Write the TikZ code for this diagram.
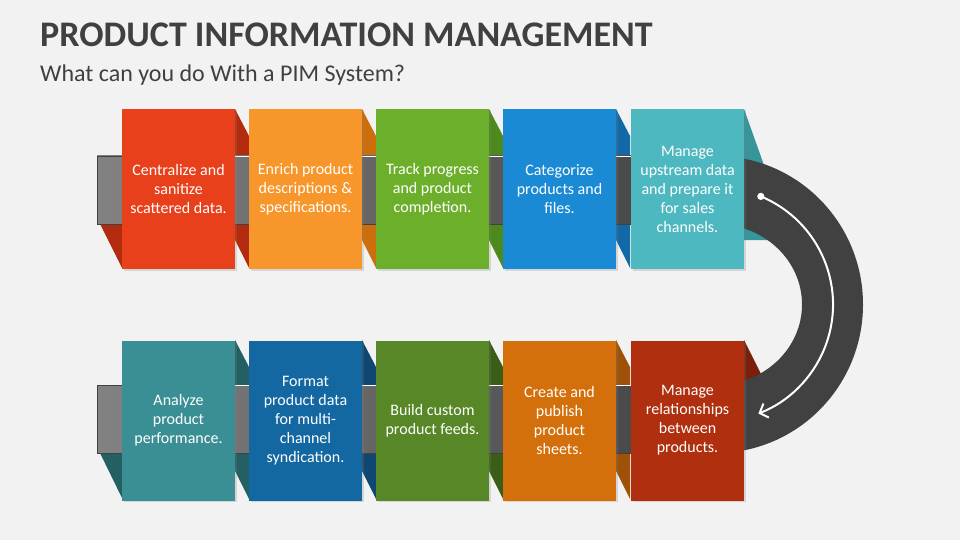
\documentclass[tikz,border=0pt]{standalone}
\usepackage{fontspec}
\setmainfont{Carlito}
\usetikzlibrary{arrows.meta,shadows}
\definecolor{bg}{HTML}{F2F2F2}
\definecolor{ttl}{HTML}{404040}
\definecolor{bandL}{HTML}{828282}
\definecolor{bandM}{HTML}{5E5E5E}
\definecolor{bandR}{HTML}{414141}
\definecolor{ringc}{HTML}{414141}
\definecolor{tA}{HTML}{E8401A}\definecolor{tAd}{HTML}{B22B0F}
\definecolor{tB}{HTML}{F7962A}\definecolor{tBd}{HTML}{CC6E0C}
\definecolor{tC}{HTML}{6BAF2B}\definecolor{tCd}{HTML}{4D8A1D}
\definecolor{tD}{HTML}{1B8AD5}\definecolor{tDd}{HTML}{1269A8}
\definecolor{tE}{HTML}{4DB8C0}\definecolor{tEd}{HTML}{35959B}
\definecolor{bA}{HTML}{3A8F95}\definecolor{bAd}{HTML}{235F63}
\definecolor{bB}{HTML}{1468A2}\definecolor{bBd}{HTML}{0E4872}
\definecolor{bC}{HTML}{578727}\definecolor{bCd}{HTML}{3A5E18}
\definecolor{bD}{HTML}{D4700B}\definecolor{bDd}{HTML}{9F5207}
\definecolor{bE}{HTML}{B02F0E}\definecolor{bEd}{HTML}{7A1F09}
\tikzset{
  pbox/.style={rectangle, minimum width=113pt, minimum height=160pt, inner sep=0pt,
    text=white, align=center, font=\fontsize{16}{19}\selectfont,
    drop shadow={shadow xshift=1.5pt, shadow yshift=-1.5pt, opacity=.25}},
  bandstyle/.style={left color=bandL, middle color=bandM, right color=bandR, draw=ringc, line width=0.8pt},
}
% fold strip to the right of a box: x-right, y-top, y-bottom, colour
\newcommand\pimfold[4]{\fill[#4] (#1,#2) -- (#1+14,#2+27) -- (#1+14,#3) -- (#1,#3-28) -- cycle;}
\begin{document}
\begin{tikzpicture}[x=1pt,y=-1pt]
\useasboundingbox (0,0) rectangle (960,540);
\fill[bg] (0,0) rectangle (960,540);
% titles
\node[anchor=base west, inner sep=0pt, text=ttl, font=\fontsize{36}{40}\selectfont\bfseries] (title) at (40,47) {PRODUCT INFORMATION MANAGEMENT};
\node[anchor=base west, inner sep=0pt, text=ttl, font=\fontsize{24}{28}\selectfont] (sub) at (40,82) {What can you do With a PIM System?};
% folds, top row
\fill[tAd] (100,224) -- (122,224) -- (122,268) -- cycle;
\pimfold{235}{109}{268}{tAd}
\pimfold{362}{109}{268}{tBd}
\pimfold{489}{109}{268}{tCd}
\pimfold{616}{109}{268}{tDd}
\fill[tEd] (744,109) -- (770,182) -- (770,240) -- (744,240) -- cycle;
% folds, bottom row
\fill[bAd] (100,453) -- (122,453) -- (122,498) -- cycle;
\pimfold{235}{340}{499}{bAd}
\pimfold{362}{340}{499}{bBd}
\pimfold{489}{340}{499}{bCd}
\pimfold{616}{340}{499}{bDd}
\fill[bEd] (744,340) -- (766,384) -- (766,440) -- (744,440) -- cycle;
% band and ring
\fill[ringc] (716,156) arc[start angle=-90, end angle=90, x radius=147, y radius=148.5]
  -- (716,385) arc[start angle=90, end angle=-90, x radius=86, y radius=80.5] -- cycle;
\path[bandstyle] (97,156) rectangle (717,224);
\path[bandstyle] (97,385) rectangle (717,453);
\draw[white, line width=0.8pt] (235,156.4) -- (631,156.4);
\draw[white, line width=0.8pt] (235,385.4) -- (631,385.4);
% arrow on ring
\coordinate (arrS) at (760.8,196.4);
\fill[white] (arrS) circle[radius=3.6];
\draw[white, line width=2pt, -{Straight Barb[length=7pt,width=15pt,line width=2pt]}]
  (arrS) arc[start angle=-67.5, end angle=68.8, radius=117];
% boxes, top row
\node[pbox, fill=tA] (t1) at (178.5,189) {Centralize and\\sanitize\\scattered data.};
\node[pbox, fill=tB] (t2) at (305.5,189) {Enrich product\\descriptions \&\\specifications.};
\node[pbox, fill=tC] (t3) at (432.5,189) {Track progress\\and product\\completion.};
\node[pbox, fill=tD] (t4) at (559.5,189) {Categorize\\products and\\files.};
\node[pbox, fill=tE] (t5) at (687.5,189) {Manage\\upstream data\\and prepare it\\for sales\\channels.};
% boxes, bottom row
\node[pbox, fill=bA] (b1) at (178.5,420.5) {Analyze\\product\\performance.};
\node[pbox, fill=bB] (b2) at (305.5,420.5) {Format\\product data\\for multi-\\channel\\syndication.};
\node[pbox, fill=bC] (b3) at (432.5,420.5) {Build custom\\product feeds.};
\node[pbox, fill=bD] (b4) at (559.5,420.5) {Create and\\publish\\product\\sheets.};
\node[pbox, fill=bE] (b5) at (687.5,420.5) {Manage\\relationships\\between\\products.};
\end{tikzpicture}
\end{document}
